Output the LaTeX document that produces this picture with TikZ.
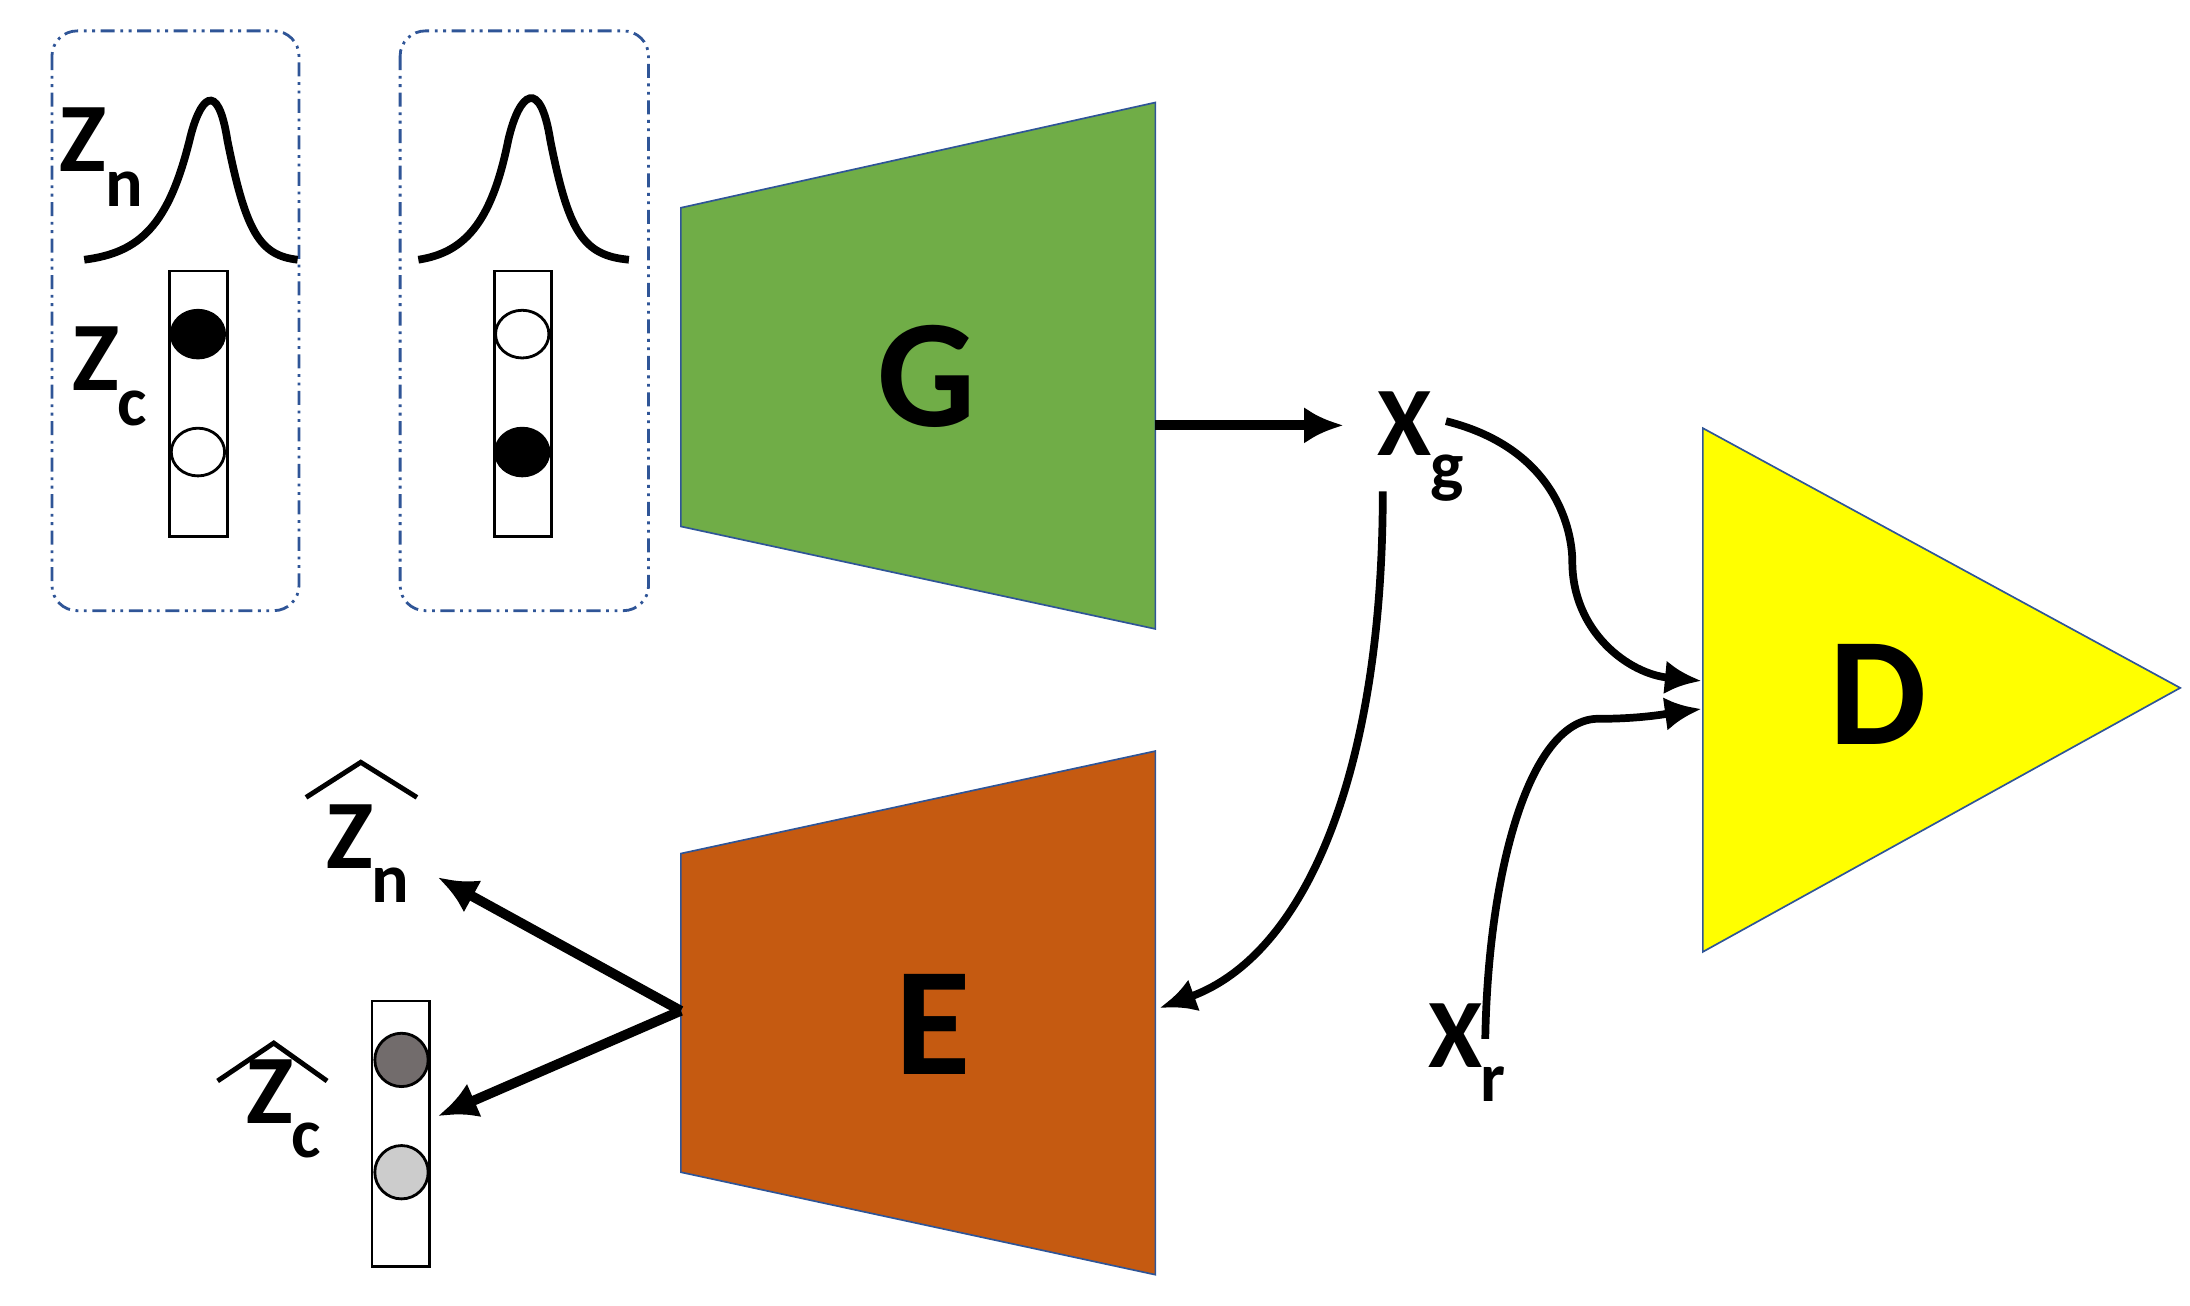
\documentclass[tikz,border=0pt]{standalone}
\usepackage{fontspec}
\setmainfont{Carlito}
\usetikzlibrary{arrows.meta}
\newcommand{\mysub}[2]{#1\kern-1pt\raisebox{-0.35em}{\fontsize{50}{50}\selectfont #2}}
\definecolor{gG}{HTML}{70AD47}
\definecolor{eO}{HTML}{C55A11}
\definecolor{bB}{HTML}{2F5597}
\definecolor{dG}{HTML}{726C6C}
\definecolor{yY}{HTML}{FFFF00}
\begin{document}
\begin{tikzpicture}[x=1pt,y=-1pt,
  lbl/.style={font=\fontsize{70}{70}\selectfont\bfseries, inner sep=0pt},
  big/.style={font=\fontsize{110}{110}\selectfont\bfseries, inner sep=0pt},
  grp/.style={draw=bB, dash pattern=on 10pt off 4pt on 2pt off 4pt on 2pt off 4pt, line width=2pt, rounded corners=18pt},
  bar/.style={draw=black, line width=2pt, fill=white},
  blk/.style={draw=bB, line width=1.2pt},
  conn/.style={line width=7pt, -{Latex[length=28pt,width=26pt]}},
  curve/.style={line width=5.5pt}]
\useasboundingbox (0,0) rectangle (1560,930);
% groups
\draw[grp] (37,22) rectangle (213,435);
\draw[grp] (285,22) rectangle (462,435);
\draw[curve] (60,185) .. controls (100,180) and (120,160) .. (135,100) .. controls (142,70) and (155,55) .. (162,100) .. controls (175,165) and (185,182) .. (212,185);
\draw[curve] (298,185) .. controls (330,180) and (350,160) .. (362,100) .. controls (370,65) and (385,55) .. (392,100) .. controls (405,165) and (415,182) .. (448,185);
\node[lbl] (zn) at (72,112) {\mysub{Z}{n}};
\node[lbl] (zc) at (78,268) {\mysub{Z}{c}};
\draw[bar] (121,193) rectangle (162,382);
\draw[line width=2pt, fill=black] (141,238) ellipse (19 and 17);
\draw[line width=2pt, fill=white] (141,322) ellipse (19 and 17);
\draw[bar] (352,193) rectangle (393,382);
\draw[line width=2pt, fill=white] (372,238) ellipse (19 and 17);
\draw[line width=2pt, fill=black] (372,322) ellipse (19 and 17);
% blocks
\draw[blk, fill=gG] (485,148) -- (823,73) -- (823,448) -- (485,375) -- cycle;
\node[big] (G) at (660,268) {G};
\draw[blk, fill=eO] (485,608) -- (823,535) -- (823,908) -- (485,835) -- cycle;
\node[big] (E) at (665,730) {E};
\draw[blk, fill=yY] (1213,305) -- (1553,490) -- (1213,678) -- cycle;
\node[big] (D) at (1338,495) {D};
% labels
\node[lbl] (xg) at (1012,318) {\mysub{X}{g}};
\node[lbl] (xr) at (1045,750) {\mysub{X}{r}};
\node[lbl] (zhn) at (262,608) {\mysub{Z}{n}};
\node[lbl] (zhc) at (202,790) {\mysub{Z}{c}};
\draw[line width=3.5pt] (218,568) -- (257,543) -- (297,568);
\draw[line width=3.5pt] (155,770) -- (195,743) -- (233,770);
\draw[bar] (265,713) rectangle (306,902);
\draw[line width=2pt, fill=dG] (286,755) circle (19);
\draw[line width=2pt, fill=black!20] (286,835) circle (19);
% connectors
\coordinate (gout) at (823,303);
\coordinate (xgin) at (957,303);
\draw[conn] (gout) -- (xgin);
\coordinate (xgr) at (1030,300);
\coordinate (din1) at (1212,485);
\draw[curve, -{Latex[length=26pt,width=24pt]}] (xgr) .. controls (1110,320) and (1120,380) .. (1120,400) .. controls (1120,450) and (1160,480) .. (din1);
\coordinate (xrt) at (1058,740);
\coordinate (din2) at (1212,505);
\draw[curve, -{Latex[length=26pt,width=24pt]}] (xrt) .. controls (1060,620) and (1090,510) .. (1140,512) .. controls (1170,512) and (1190,508) .. (din2);
\coordinate (xgb) at (985,350);
\coordinate (ein) at (826,718);
\draw[curve, -{Latex[length=26pt,width=24pt]}] (xgb) .. controls (985,550) and (930,680) .. (ein);
\coordinate (eout) at (485,720);
\coordinate (zhnA) at (312,625);
\coordinate (zhcA) at (312,795);
\draw[conn] (eout) -- (zhnA);
\draw[conn] (eout) -- (zhcA);
\end{tikzpicture}
\end{document}
